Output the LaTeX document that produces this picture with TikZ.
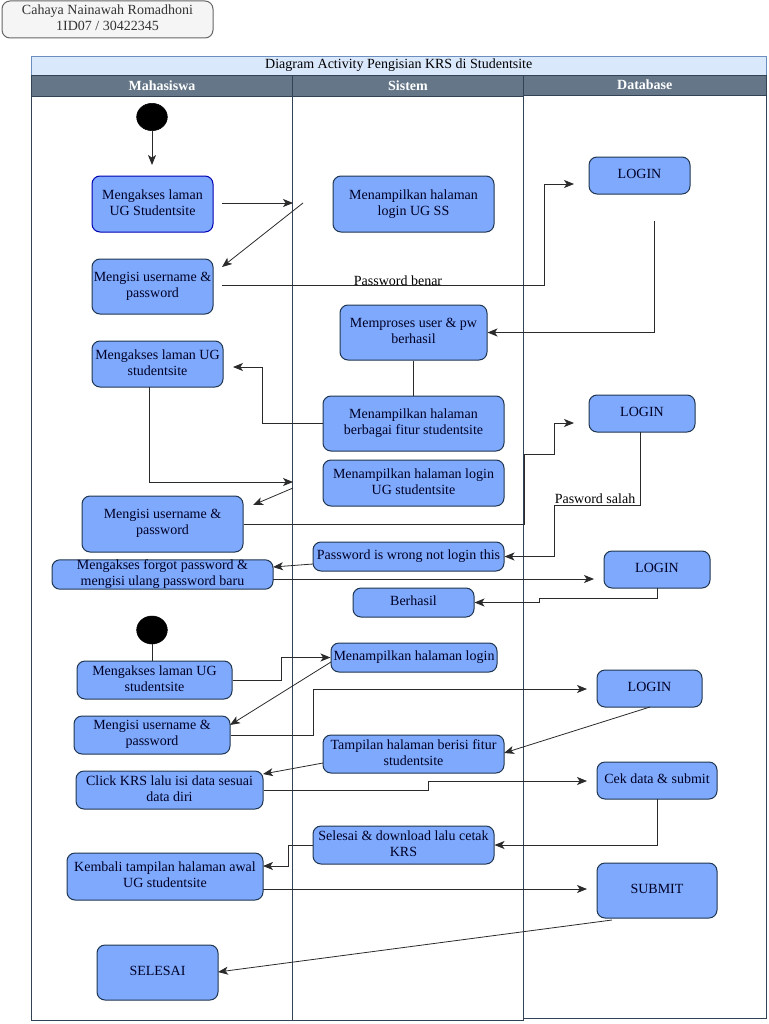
\documentclass[tikz,border=0pt]{standalone}
\usepackage{fontspec}
\setmainfont{Liberation Serif}
\usetikzlibrary{arrows.meta,shapes.geometric}
\definecolor{actfill}{HTML}{7EA9FC}
\definecolor{actline}{HTML}{1F3550}
\definecolor{headfill}{HTML}{647687}
\definecolor{headline}{HTML}{314354}
\definecolor{titlefill}{HTML}{DAE8FC}
\definecolor{titleline}{HTML}{6C8EBF}
\definecolor{wire}{HTML}{2A2A2A}
\tikzset{
  x=0.75pt,y=-0.75pt,
  actnode/.style={draw=actline,fill=actfill,line width=0.75pt,rounded corners=6pt,inner sep=0pt,align=center,text depth=2.7pt,
    font=\fontsize{10.5pt}{12pt}\selectfont,text=black!85!blue},
  nameplate/.style={draw=black!60,fill=black!4,line width=0.75pt,rounded corners=6pt,inner sep=0pt,align=center,text depth=2.7pt,
    font=\fontsize{10.5pt}{12pt}\selectfont,text=black!80},
  startdot/.style={ellipse,fill=black,draw=black,inner sep=0pt},
  lanehead/.style={draw=headline,fill=headfill,line width=0.6pt,inner sep=0pt,text=white,
    font=\fontsize{10.5pt}{12pt}\selectfont\bfseries},
  lanebody/.style={draw=headline,line width=0.6pt,inner sep=0pt},
  titlebar/.style={draw=titleline,fill=titlefill,line width=0.6pt,inner sep=0pt,
    font=\fontsize{10.5pt}{12pt}\selectfont},
  wirelabel/.style={inner sep=0pt,font=\fontsize{10.5pt}{12pt}\selectfont},
  flow/.style={draw=wire,line width=0.6pt,-{Stealth[length=7.5pt,width=6pt,inset=2pt]}},
  plainwire/.style={draw=wire,line width=0.6pt},
}
\newcommand\anybox[7]{\node[#7,minimum width={(#4-#2)*0.75pt},minimum height={(#5-#3)*0.75pt}] (#1) at ({(#2+#4)/2},{(#3+#5)/2}) {#6};}
\begin{document}
\begin{tikzpicture}
\useasboundingbox (0,0) rectangle (768,1024);
% swimlanes
\anybox{bodyA}{31.5}{96}{292.5}{1020}{}{lanebody}
\anybox{bodyB}{292.5}{96}{523.5}{1020}{}{lanebody}
\anybox{bodyC}{523.5}{95}{766}{1018}{}{lanebody}
\anybox{title}{31.5}{56}{766}{75}{Diagram Activity Pengisian KRS di Studentsite}{titlebar}
\anybox{headA}{31.5}{75}{292.5}{96}{Mahasiswa}{lanehead}
\anybox{headB}{292.5}{75}{523.5}{96}{Sistem}{lanehead}
\anybox{headC}{523.5}{75}{766}{95}{Database}{lanehead}
% name plate
\anybox{plate}{2}{1}{213}{38}{Cahaya Nainawah Romadhoni\\1ID07 / 30422345}{nameplate}
% start dots
\node[startdot,minimum width=23pt,minimum height=20.5pt] (startA) at (152,117) {};
\node[startdot,minimum width=23pt,minimum height=21pt] (startB) at (152,630) {};
% Mahasiswa
\anybox{a1}{92}{176}{213}{232}{Mengakses laman\\UG Studentsite}{actnode,draw=blue!70!black}
\anybox{a2}{92}{259}{213}{314}{Mengisi username \&\\password}{actnode}
\anybox{a3}{92}{341}{223}{387}{Mengakses laman UG\\studentsite}{actnode}
\anybox{a4}{82}{496}{243}{552}{Mengisi username \&\\password}{actnode}
\anybox{a5}{52}{560}{273}{589}{Mengakses forgot password \&\\mengisi ulang password baru}{actnode}
\anybox{a6}{77}{661}{232}{699}{Mengakses laman UG\\studentsite}{actnode}
\anybox{a7}{74}{716}{230}{754}{Mengisi username \&\\password}{actnode}
\anybox{a8}{76}{771}{263}{809}{Click KRS lalu isi data sesuai\\data diri}{actnode}
\anybox{a9}{67}{853}{263}{900}{Kembali tampilan halaman awal\\UG studentsite}{actnode}
\anybox{a10}{97}{945}{218}{1000}{SELESAI}{actnode}
% Sistem
\anybox{s1}{333}{176}{494}{232}{Menampilkan halaman\\login UG SS}{actnode}
\anybox{s2}{340}{305}{487}{360}{Memproses user \& pw\\berhasil}{actnode}
\anybox{s3}{323}{396}{504}{451}{Menampilkan halaman\\berbagai fitur studentsite}{actnode}
\anybox{s4}{323}{460}{504}{506}{Menampilkan halaman login\\UG studentsite}{actnode}
\anybox{s5}{313}{542}{504}{571}{Password is wrong not login this}{actnode}
\anybox{s6}{353}{588}{474}{617}{Berhasil}{actnode}
\anybox{s7}{331}{643}{497}{672}{Menampilkan halaman login}{actnode}
\anybox{s8}{323}{735}{504}{773}{Tampilan halaman berisi fitur\\studentsite}{actnode}
\anybox{s9}{313}{826}{494}{864}{Selesai \& download lalu cetak\\KRS}{actnode}
% Database
\anybox{d1}{589}{157}{690}{194}{LOGIN}{actnode}
\anybox{d2}{589}{395}{695}{432}{LOGIN}{actnode}
\anybox{d3}{604}{551}{710}{588}{LOGIN}{actnode}
\anybox{d4}{597}{670}{702}{707}{LOGIN}{actnode}
\anybox{d5}{597}{762}{717}{799}{Cek data \& submit}{actnode}
\anybox{d6}{597}{863}{717}{918}{SUBMIT}{actnode}
% free ends
\coordinate (e1) at (152,165);
\coordinate (e2) at (222,203);
\coordinate (e3) at (293,203);
\coordinate (e4) at (303,203);
\coordinate (e5) at (222,267);
\coordinate (e6) at (222,285);
\coordinate (e7) at (574,184);
\coordinate (e8) at (654,221);
\coordinate (e9) at (233,367);
\coordinate (e10) at (149,387);
\coordinate (e11) at (293,482);
\coordinate (e12) at (293,488);
\coordinate (e13) at (253,505);
\coordinate (e14) at (574,423);
\coordinate (e15) at (640,432);
\coordinate (e16) at (594,579);
\coordinate (e17) at (273,579);
\coordinate (e18) at (657,588);
\coordinate (e19) at (587,689);
\coordinate (e20) at (587,781);
\coordinate (e21) at (587,889);
\coordinate (e22) at (263,889);
\coordinate (e23) at (612,920);
\coordinate (e24) at (218,972);
\coordinate (e25) at (313,564);
\coordinate (e26) at (273,567);
\coordinate (e27) at (331,662);
\coordinate (e28) at (230,725);
\coordinate (e29) at (650,707);
\coordinate (e30) at (504,753);
\coordinate (e31) at (323,763);
\coordinate (e32) at (263,774);
\coordinate (e33) at (263,866);
\coordinate (e34) at (657,799);
% connectors
\draw[flow] (startA) -- (e1);
\draw[flow] (e2) -- (e3);
\draw[flow] (e4) -- (e5);
\draw[flow] (e6) -- (544,285) -- (544,184) -- (e7);
\draw[flow] (e8) -- (654,332.5) -- (s2.east);
\draw[plainwire] (s2.south) -- (s3.north);
\draw[flow] (s3.west) -- (262,423.5) -- (262,367) -- (e9);
\draw[flow] (e10) -- (149,482) -- (e11);
\draw[flow] (e12) -- (e13);
\draw[flow] (a4.east) -- (524,524) -- (524,454) -- (554,454) -- (554,423) -- (e14);
\draw[flow] (e15) -- (640,505) -- (554,505) -- (554,556.5) -- (s5.east);
\draw[flow] (e25) -- (e26);
\draw[flow] (e17) -- (e16);
\draw[flow] (e18) -- (657,598) -- (539,598) -- (539,602.5) -- (s6.east);
\draw[plainwire] (startB) -- (152,661);
\draw[flow] (a6.east) -- (281,680) -- (281,657.5) -- (s7.west);
\draw[flow] (e27) -- (e28);
\draw[flow] (a7.east) -- (313,735) -- (313,689) -- (e19);
\draw[flow] (e29) -- (e30);
\draw[flow] (e31) -- (e32);
\draw[flow] (a8.east) -- (428,790) -- (428,781) -- (e20);
\draw[flow] (e34) -- (657,845) -- (s9.east);
\draw[flow] (s9.west) -- (288,845) -- (288,866) -- (e33);
\draw[flow] (e22) -- (e21);
\draw[flow] (e23) -- (e24);
% labels
\node[wirelabel] (lbA) at (398,280.5) {Password benar};
\node[wirelabel] (lbB) at (595,498.5) {Pasword salah};
\end{tikzpicture}
\end{document}
